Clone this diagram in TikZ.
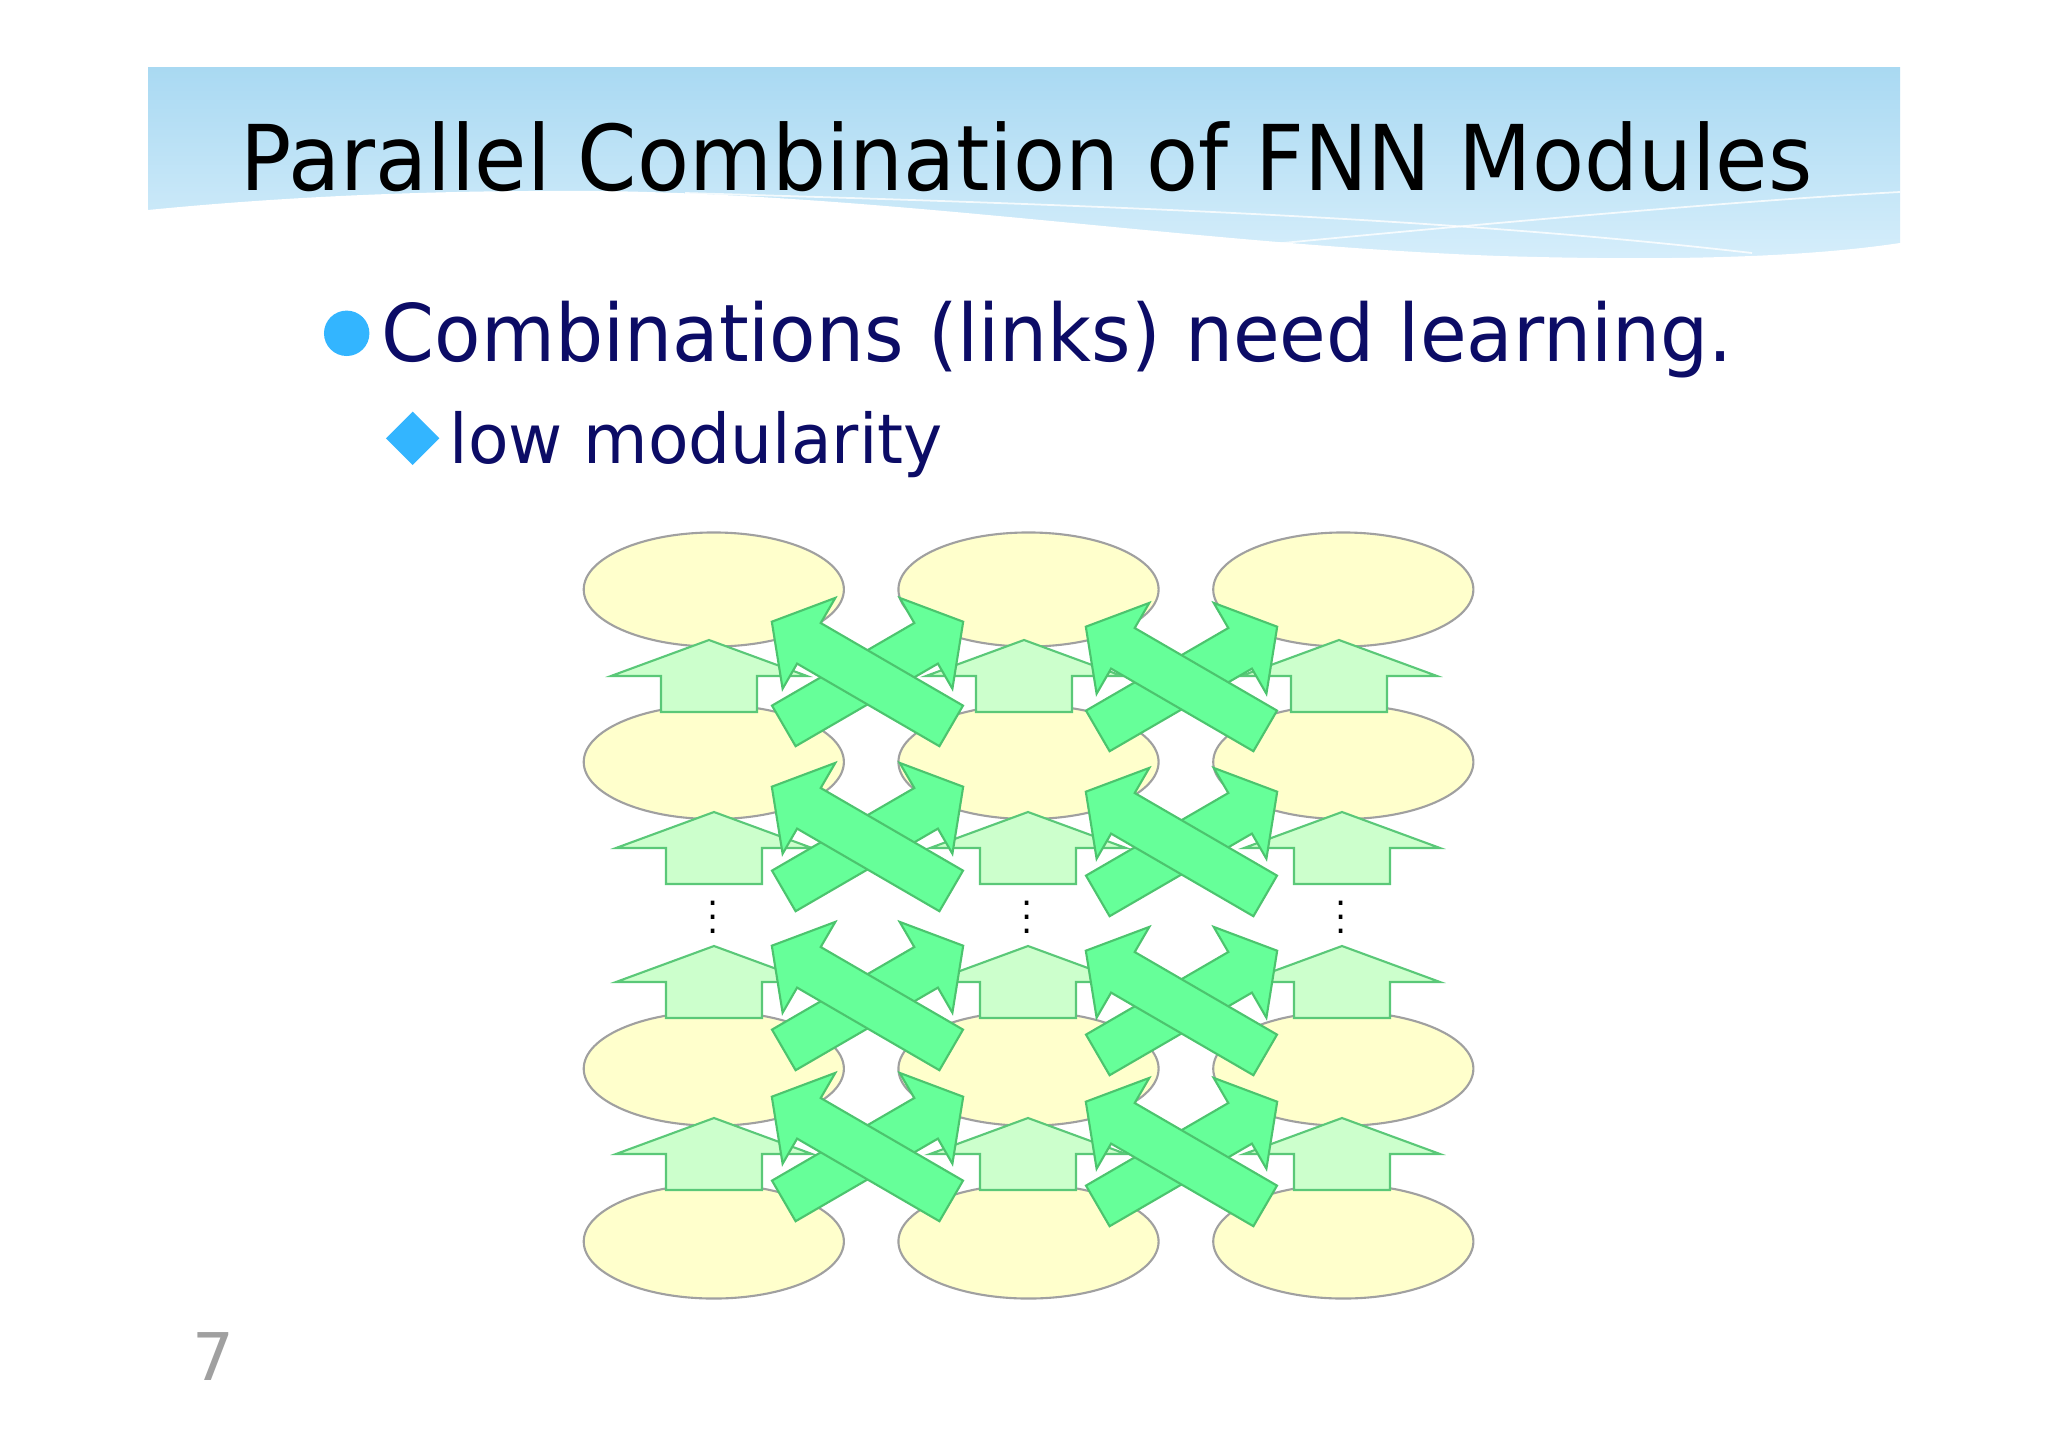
\documentclass[tikz,border=0pt]{standalone}
\usepackage{fontspec}
\setmainfont{DejaVu Sans}
\usetikzlibrary{shapes.geometric}
\definecolor{navy}{RGB}{12,12,102}
\definecolor{azure}{RGB}{51,181,255}
\definecolor{ellfill}{RGB}{255,255,204}
\definecolor{ellline}{RGB}{160,160,160}
\definecolor{upfill}{RGB}{204,255,204}
\definecolor{upline}{RGB}{90,200,120}
\definecolor{xfill}{RGB}{102,255,153}
\definecolor{xline}{RGB}{76,196,110}
\definecolor{bandtop}{RGB}{169,217,242}
\definecolor{bandbot}{RGB}{214,238,251}
\definecolor{pagegray}{RGB}{160,160,160}
\begin{document}
\begin{tikzpicture}[x=0.01cm,y=-0.01cm,
  module/.style={ellipse, draw=ellline, fill=ellfill, line width=0.6pt,
    minimum width=2.6cm, minimum height=1.14cm, inner sep=0pt},
  upstyle/.style={draw=upline, fill=upfill, line width=0.6pt},
  xstyle/.style={draw=xline, fill=xfill, line width=0.6pt},
  uparrow/.pic={\draw[upstyle] (0,-36) -- (98,0) -- (48,0) -- (48,36) -- (-48,36) -- (-48,0) -- (-98,0) -- cycle;},
  xcross/.pic={
    \draw[xstyle] (95.7,-55.3) -- (32.2,-79.1) -- (46.8,-54.0) -- (-95.5,28.6) -- (-71.9,69.2) -- (70.4,-13.4) -- (84.9,11.7) -- cycle;
    \draw[xstyle] (-95.7,-55.3) -- (-32.2,-79.1) -- (-46.8,-54.0) -- (95.5,28.6) -- (71.9,69.2) -- (-70.4,-13.4) -- (-84.9,11.7) -- cycle;},
  vdotsnode/.style={anchor=south, inner sep=0pt}
]
\useasboundingbox (0,0) rectangle (2048,1448);
\fill[white] (0,0) rectangle (2048,1448);
% header band
\shade[top color=bandtop, bottom color=bandbot] (148,67) rectangle (1900,262);
\fill[white] (140,210) -- (148,210) .. controls (300,195) and (450,190) .. (600,191)
  .. controls (900,195) and (1200,245) .. (1500,256)
  .. controls (1700,262) and (1820,255) .. (1900,243) -- (1910,243) -- (1910,280) -- (140,280) -- cycle;
\draw[white, opacity=0.8, line width=0.5pt] (685,193) .. controls (1100,205) and (1450,218) .. (1752,253);
\draw[white, opacity=0.8, line width=0.5pt] (1241,247) .. controls (1500,222) and (1750,200) .. (1900,192);
% texts
\node[anchor=base, inner sep=0pt] (title) at (1026.5,190)
  {\fontsize{25.8}{30}\selectfont\scalebox{0.938}[1]{Parallel Combination of FNN Modules}};
\node[circle, fill=azure, inner sep=0pt, minimum size=0.454cm] (dot1) at (346.7,333.3) {};
\node[anchor=base west, inner sep=0pt, text=navy] (b1) at (381,361.7)
  {\fontsize{22.6}{27}\selectfont\scalebox{0.955}[1]{Combinations (links) need learning.}};
\node[diamond, fill=azure, inner sep=0pt, minimum size=0.54cm] (dia) at (412.7,438.3) {};
\node[anchor=base west, inner sep=0pt, text=navy] (b2) at (449,463.3)
  {\fontsize{19.5}{23}\selectfont\scalebox{0.966}[1]{low modularity}};
\node[anchor=base, inner sep=0pt, text=pagegray] (page) at (213,1380)
  {\fontsize{18.7}{22}\selectfont 7};
% modules
\foreach \r/\y in {1/589.5,2/762,3/1068.7,4/1241.5}
  \foreach \c/\x in {1/713.8,2/1028.5,3/1343.3}
    \node[module] (e\r\c) at (\x,\y) {};
% vertical arrows
\foreach \x in {709,1024,1339} \pic at (\x,676) {uparrow};
\foreach \x in {714,1028,1342} {
  \pic at (\x,848) {uparrow};
  \pic at (\x,982) {uparrow};
  \pic at (\x,1154) {uparrow};
}
% crossing arrows
\foreach \y in {677,842,1001,1152} {
  \pic at (867.5,\y) {xcross};
  \pic at (1181.5,\y+5) {xcross};
}
% dots
\node[vdotsnode] (v1) at (713,934) {$\vdots$};
\node[vdotsnode] (v2) at (1027,934) {$\vdots$};
\node[vdotsnode] (v3) at (1341,934) {$\vdots$};
\end{tikzpicture}
\end{document}
